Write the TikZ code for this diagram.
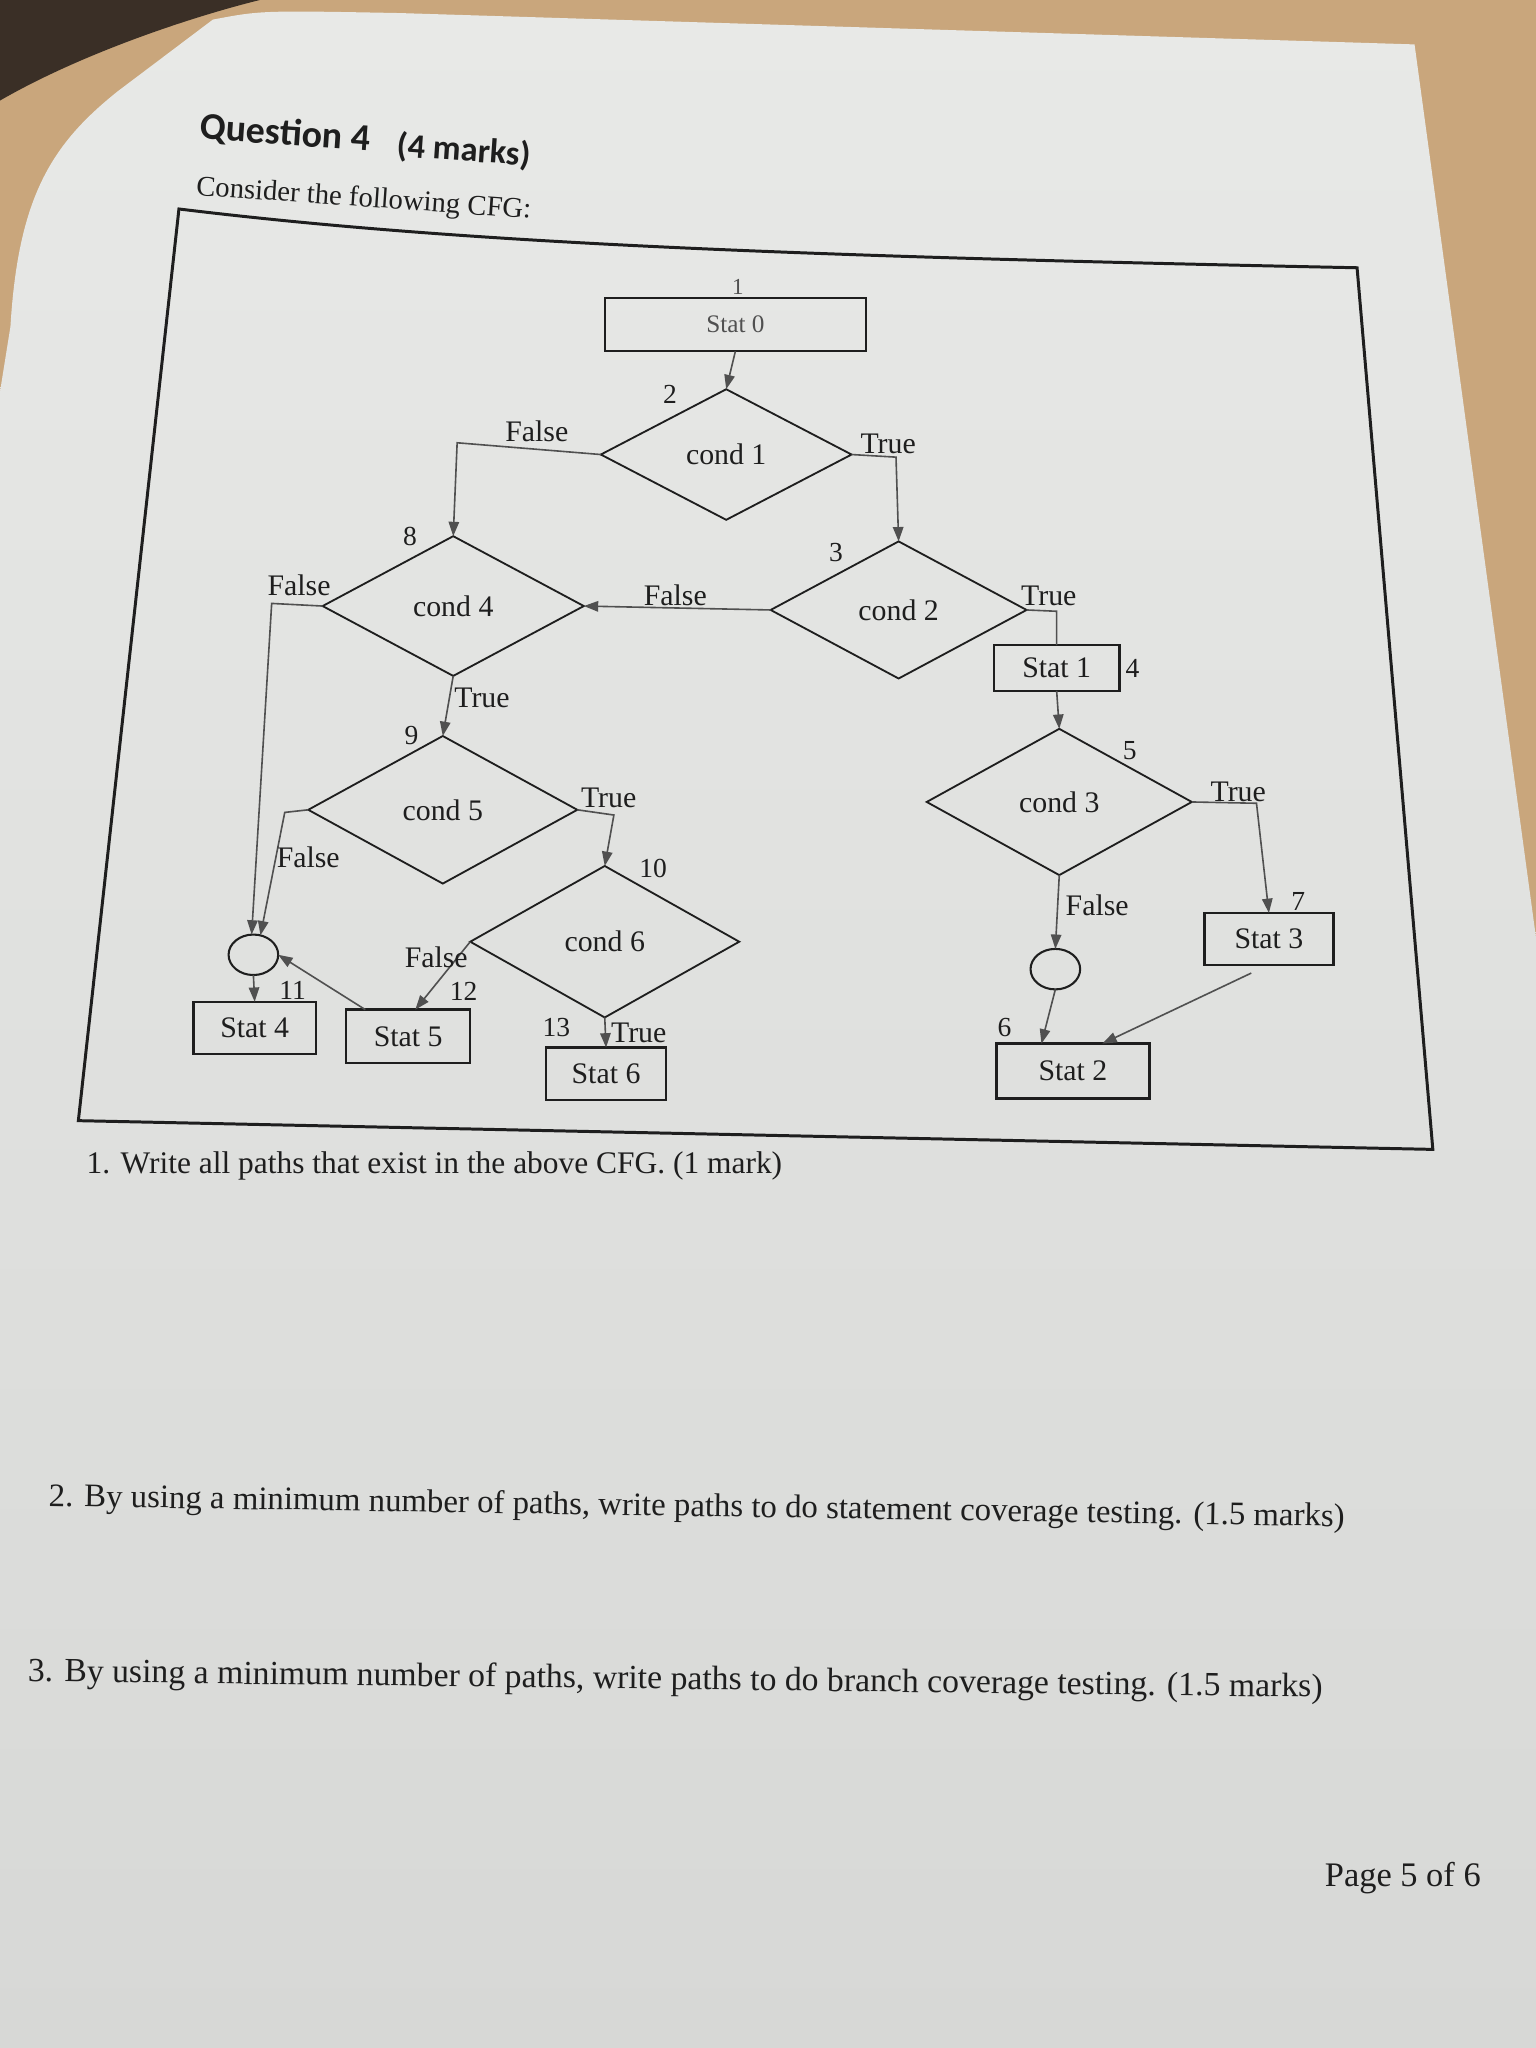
\documentclass[tikz,border=0pt]{standalone}
\usepackage{fontspec}
\setmainfont{Liberation Serif}
\newfontfamily\hdrfont{Carlito}
\usetikzlibrary{shapes.geometric,arrows.meta}
\definecolor{wood}{HTML}{C9A67C}
\definecolor{darkc}{HTML}{3A2F26}
\definecolor{papertop}{HTML}{E8E9E7}
\definecolor{paperbot}{HTML}{D7D8D6}
\definecolor{linec}{HTML}{505050}
\definecolor{inkc}{HTML}{1E1E1E}
\tikzset{
  cond/.style={diamond, draw=inkc, line width=0.8pt, inner sep=0pt, outer sep=0pt, text=inkc, font=\fontsize{13}{15}\selectfont},
  stbox/.style={rectangle, draw=inkc, line width=1.1pt, inner sep=0pt, outer sep=0pt, text=inkc, font=\fontsize{13}{15}\selectfont},
  junc/.style={ellipse, draw=inkc, line width=0.9pt, inner sep=0pt, outer sep=0pt, minimum width=0.76cm, minimum height=0.62cm},
  conn/.style={draw=linec, line width=0.7pt},
  arr/.style={conn, -{Triangle[length=0.22cm,width=0.16cm]}},
  lbl/.style={text=inkc, inner sep=0pt, font=\fontsize{13}{15}\selectfont},
  num/.style={text=inkc, inner sep=0pt, font=\fontsize{12}{14}\selectfont},
  qtext/.style={text=inkc, inner sep=0pt, anchor=west}
}
\begin{document}
\begin{tikzpicture}[x=0.02cm,y=-0.02cm]
\useasboundingbox (0,0) rectangle (1176,1568);
% background: table and paper
\fill[wood] (0,0) rectangle (1176,1568);
\fill[darkc] (0,0) -- (199,0) .. controls (150,12) and (64,40) .. (0,77) -- cycle;
\shade[top color=papertop, bottom color=paperbot] (0,300) -- (8,250) .. controls (14,150) and (40,110) .. (90,70) -- (163,15) .. controls (200,8) .. (306,10) -- (1083,34) -- (1176,718) -- (1176,1568) -- (0,1568) -- cycle;
% header
\node[qtext, font=\hdrfont\bfseries\fontsize{16.5}{20}\selectfont, rotate=-4] (qhead) at (153,98) {Question 4};
\node[qtext, font=\hdrfont\bfseries\fontsize{15}{18}\selectfont, rotate=-4] (qmarks) at (304,112) {(4 marks)};
\node[qtext, font=\fontsize{12.5}{15}\selectfont, rotate=-4] (qcons) at (150,144) {Consider the following CFG:};
% frame
\draw[draw=inkc, line width=1.3pt] (137,160) .. controls (350,186) and (600,196) .. (1039,205) -- (1097,880) -- (60,858) -- cycle;
% nodes
\node[stbox, minimum width=4.0cm, minimum height=0.82cm, font=\fontsize{11}{13}\selectfont, text=linec, line width=0.9pt] (s0) at (563,248.5) {Stat 0};
\node[cond, minimum width=3.84cm, minimum height=2.0cm] (c1) at (556,348) {cond 1};
\node[cond, minimum width=4.0cm, minimum height=2.14cm] (c4) at (347,464) {cond 4};
\node[cond, minimum width=3.92cm, minimum height=2.1cm] (c2) at (688,467) {cond 2};
\node[stbox, minimum width=1.92cm, minimum height=0.70cm] (s1) at (809,511.5) {Stat 1};
\node[cond, minimum width=4.12cm, minimum height=2.26cm] (c5) at (339,620) {cond 5};
\node[cond, minimum width=4.06cm, minimum height=2.24cm] (c3) at (811,614) {cond 3};
\node[cond, minimum width=4.12cm, minimum height=2.32cm] (c6) at (463,721) {cond 6};
\node[junc] (j1) at (194,731) {};
\node[junc] (j2) at (808,742) {};
\node[stbox, minimum width=1.88cm, minimum height=0.80cm] (s4) at (195,787) {Stat 4};
\node[stbox, minimum width=1.90cm, minimum height=0.82cm] (s5) at (312.5,793.5) {Stat 5};
\node[stbox, minimum width=1.84cm, minimum height=0.80cm] (s6) at (464,822) {Stat 6};
\node[stbox, minimum width=1.98cm, minimum height=0.80cm] (s3) at (971.5,719) {Stat 3};
\node[stbox, minimum width=2.34cm, minimum height=0.84cm] (s2) at (821.5,820) {Stat 2};
\coordinate (s3tail) at (958,745);
% connectors
\draw[arr] (s0.south) -- (c1.north);
\draw[arr] (c1.west) -- (350,339) -- (c4.north);
\draw[arr] (c1.east) -- (686,350) -- (c2.north);
\draw[arr] (c2.west) -- (c4.east);
\draw[conn] (c2.east) -- (809,468) -- (s1.north);
\draw[arr] (s1.south) -- (c3.north);
\draw[arr] (c3.east) -- (962,615) -- (s3.north);
\draw[arr] (c3.south) -- (j2.north);
\draw[arr] (j2.south) -- (s2.139);
\draw[arr] (s3tail) -- (s2.43);
\draw[arr] (c4.south) -- (c5.north);
\draw[arr] (c4.west) -- (208,462) -- (j1.95);
\draw[arr] (c5.west) -- (218,622) -- (j1.70);
\draw[arr] (c5.east) -- (470,624) -- (c6.north);
\draw[arr] (c6.west) -- (s5.75);
\draw[arr] (s5.148) -- (j1.east);
\draw[arr] (j1.south) -- (s4.north);
\draw[arr] (c6.south) -- (s6.north);
% labels
\node[num, font=\fontsize{10}{12}\selectfont, text=linec] (n1) at (565,220) {1};
\node[num] (n2) at (513,302) {2};
\node[lbl] (f1) at (411,330) {False};
\node[lbl] (t1) at (680,340) {True};
\node[num] (n8) at (314,411) {8};
\node[num] (n3) at (640,423) {3};
\node[lbl] (f4) at (229,448) {False};
\node[lbl] (f2) at (517,456) {False};
\node[lbl] (t2) at (803,456) {True};
\node[num] (n4) at (867,512) {4};
\node[lbl] (t4) at (369,534) {True};
\node[num] (n9) at (315,563) {9};
\node[num] (n5) at (865,575) {5};
\node[lbl] (t5) at (466,611) {True};
\node[lbl] (t3) at (948,606) {True};
\node[lbl] (f5) at (236,656) {False};
\node[num] (n10) at (500,665) {10};
\node[lbl] (f3) at (840,693) {False};
\node[num] (n7) at (994,690) {7};
\node[lbl] (f6) at (334,733) {False};
\node[num] (n12) at (355,759) {12};
\node[num] (n11) at (224,758) {11};
\node[num] (n13) at (426,787) {13};
\node[lbl] (t6) at (489,791) {True};
\node[num] (n6) at (769,787) {6};
% questions
\node[qtext, font=\fontsize{13.7}{16}\selectfont] (q1) at (66,893) {1. Write all paths that exist in the above CFG. (1 mark)};
\node[qtext, font=\fontsize{14.3}{17}\selectfont, rotate=-0.9] (q2) at (37,1147) {2. By using a minimum number of paths, write paths to do statement coverage testing. (1.5 marks)};
\node[qtext, font=\fontsize{14.7}{17}\selectfont, rotate=-0.7] (q3) at (21,1281) {3. By using a minimum number of paths, write paths to do branch coverage testing. (1.5 marks)};
\node[qtext, font=\fontsize{15}{18}\selectfont] (pg) at (1014,1438) {Page 5 of 6};
\end{tikzpicture}
\end{document}
